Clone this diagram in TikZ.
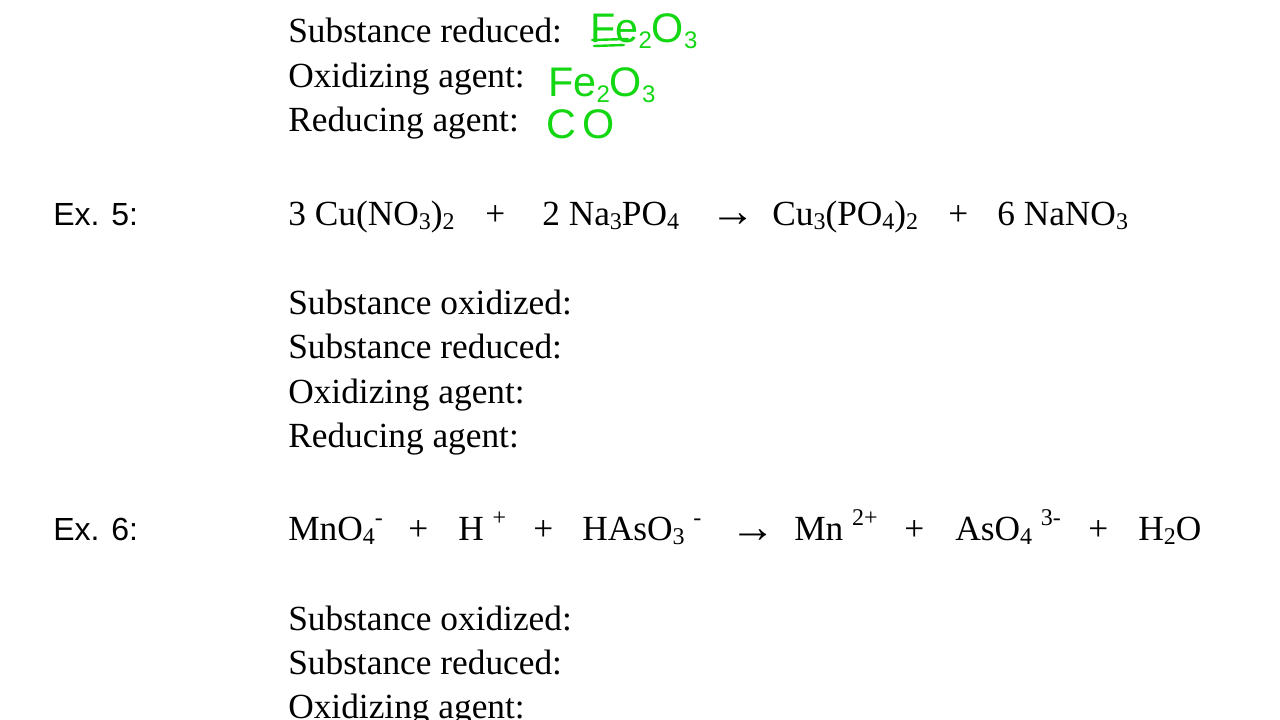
\documentclass[tikz,border=0pt]{standalone}
\usepackage{fontspec}
\setmainfont{Liberation Serif}
\newfontfamily\arial{Liberation Sans}
\definecolor{pen}{RGB}{20,215,20}
\newcommand{\sbs}[1]{\raisebox{-0.25ex}{\fontsize{18}{18}\selectfont #1}}
\newcommand{\sps}[1]{\raisebox{0.9ex}{\fontsize{18}{18}\selectfont #1}}
\tikzset{t/.style={anchor=base west,inner sep=0pt,font=\fontsize{26.5}{26.5}\selectfont},
 ex/.style={anchor=base west,inner sep=0pt,font=\arial\fontsize{24}{24}\selectfont},
 arr/.style={anchor=base west,inner sep=0pt,font=\fontsize{34}{34}\selectfont},
 hw/.style={anchor=base west,inner sep=0pt,text=pen,font=\arial\fontsize{31}{31}\selectfont}}
\begin{document}
\begin{tikzpicture}[x=0.75pt,y=-0.75pt]
\useasboundingbox (0,0) rectangle (1280,720);
\fill[white] (0,0) rectangle (1280,720);
% top block
\node[t] (r1) at (288,43) {Substance reduced:};
\node[t] (o1) at (288,88) {Oxidizing agent:};
\node[t] (d1) at (288,132) {Reducing agent:};
\node[hw] (h1) at (590,43) {Fe\sbs{2}O\sbs{3}};
\node[hw] (h2) at (548,97) {Fe\sbs{2}O\sbs{3}};
\node[hw] (h3) at (546,139) {C\,O};
\draw[pen,line width=1.8pt,line cap=round] (592,40) -- (628,39);
\draw[pen,line width=1.8pt,line cap=round] (594,46) -- (624,45);
% Ex 5
\node[ex] (e5) at (53,225) {Ex. 5:};
\node[t] (a1) at (288,225) {3 Cu(NO\sbs{3})\sbs{2}};
\node[t] (p1) at (485,225) {+};
\node[t] (a2) at (542,225) {2 Na\sbs{3}PO\sbs{4}};
\node[arr] (ar1) at (710,227) {→};
\node[t] (a3) at (772,225) {Cu\sbs{3}(PO\sbs{4})\sbs{2}};
\node[t] (p2) at (948,225) {+};
\node[t] (a4) at (997,225) {6 NaNO\sbs{3}};
\node[t] (s1) at (288,314) {Substance oxidized:};
\node[t] (s2) at (288,358) {Substance reduced:};
\node[t] (s3) at (288,403) {Oxidizing agent:};
\node[t] (s4) at (288,447) {Reducing agent:};
% Ex 6
\node[ex] (e6) at (53,540) {Ex. 6:};
\node[t] (b1) at (288,540) {MnO\sbs{4}\sps{-}};
\node[t] (q1) at (408,540) {+};
\node[t] (b2) at (458,540) {H \sps{+}};
\node[t] (q2) at (533,540) {+};
\node[t] (b3) at (582,540) {HAsO\sbs{3} \sps{-}};
\node[arr] (ar2) at (730,542) {→};
\node[t] (b4) at (794,540) {Mn \sps{2+}};
\node[t] (q3) at (904,540) {+};
\node[t] (b5) at (955,540) {AsO\sbs{4} \sps{3-}};
\node[t] (q4) at (1088,540) {+};
\node[t] (b6) at (1138,540) {H\sbs{2}O};
\node[t] (u1) at (288,630) {Substance oxidized:};
\node[t] (u2) at (288,674) {Substance reduced:};
\node[t] (u3) at (288,718) {Oxidizing agent:};
\end{tikzpicture}
\end{document}
